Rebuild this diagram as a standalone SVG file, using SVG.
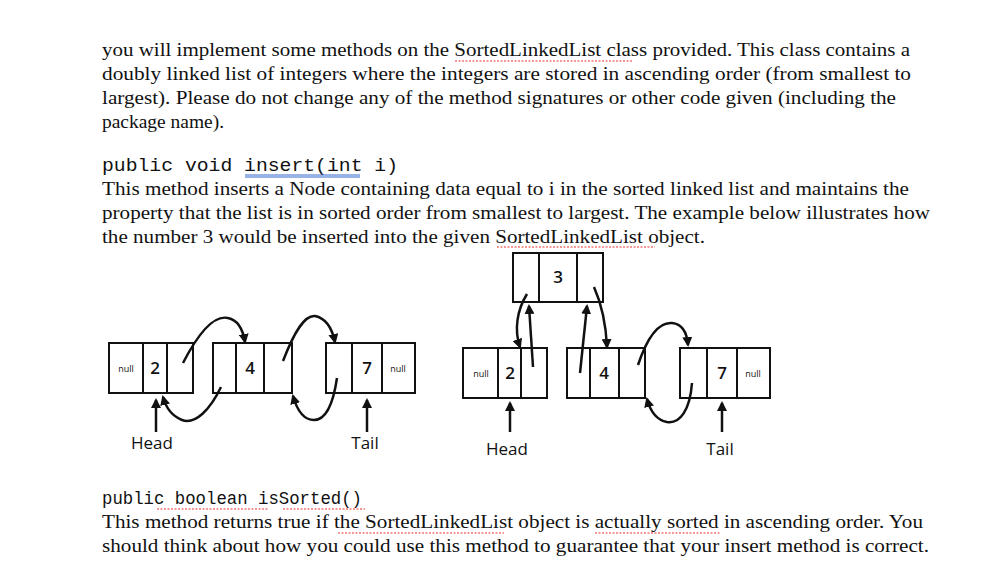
<svg xmlns="http://www.w3.org/2000/svg" width="1002" height="573" viewBox="0 0 1002 573">
<style>
.t{font-family:"Liberation Serif",serif;font-size:18.5px;fill:#111}
.c{font-family:"Liberation Mono",monospace;font-size:18px;fill:#111}
.box{fill:#fff;stroke:#111;stroke-width:2}
.dv{stroke:#111;stroke-width:2}
.n{font-family:"Open Sans",sans-serif;font-size:9px;fill:#111;text-anchor:middle}
.d{font-family:"Open Sans",sans-serif;font-size:17px;font-weight:600;fill:#111;text-anchor:middle}
.l{font-family:"Open Sans",sans-serif;font-size:17px;fill:#111;text-anchor:middle}
.a{fill:none;stroke:#111;stroke-width:2.5;marker-end:url(#ah)}
.sq{fill:none;stroke:#e33;stroke-width:1.2;stroke-dasharray:2 1.5}
.bl{stroke:#36c;stroke-width:1}
</style>
<defs><marker id="ah" viewBox="0 0 10 10" refX="8" refY="5" markerWidth="4" markerHeight="4" orient="auto"><path d="M0,0L10,5L0,10z" fill="#111"/></marker></defs>
<rect width="1002" height="573" fill="#fff"/>
<g id="text">
<text class="t" x="102" y="56" textLength="808" lengthAdjust="spacingAndGlyphs">you will implement some methods on the SortedLinkedList class provided. This class contains a</text>
<text class="t" x="102" y="80" textLength="809" lengthAdjust="spacingAndGlyphs">doubly linked list of integers where the integers are stored in ascending order (from smallest to</text>
<text class="t" x="102" y="104" textLength="794" lengthAdjust="spacingAndGlyphs">largest). Please do not change any of the method signatures or other code given (including the</text>
<text class="t" x="102" y="128" textLength="122" lengthAdjust="spacingAndGlyphs">package name).</text>
<text class="c" x="102" y="171" textLength="296" lengthAdjust="spacingAndGlyphs">public void insert(int i)</text>
<text class="t" x="102" y="195" textLength="807" lengthAdjust="spacingAndGlyphs">This method inserts a Node containing data equal to i in the sorted linked list and maintains the</text>
<text class="t" x="102" y="219" textLength="828" lengthAdjust="spacingAndGlyphs">property that the list is in sorted order from smallest to largest. The example below illustrates how</text>
<text class="t" x="102" y="243" textLength="603" lengthAdjust="spacingAndGlyphs">the number 3 would be inserted into the given SortedLinkedList object.</text>
<text class="c" x="102" y="504" textLength="260" lengthAdjust="spacingAndGlyphs">public boolean isSorted()</text>
<text class="t" x="102" y="528" textLength="821" lengthAdjust="spacingAndGlyphs">This method returns true if the SortedLinkedList object is actually sorted in ascending order. You</text>
<text class="t" x="102" y="552" textLength="827" lengthAdjust="spacingAndGlyphs">should think about how you could use this method to guarantee that your insert method is correct.</text>
</g>
<g id="marks">
<path class="sq" d="M455,61H632"/>
<path class="sq" d="M497,247H655"/>
<path class="sq" d="M338,533H504"/>
<path class="sq" d="M595,533H720"/>
<path class="sq" d="M157,509H268"/>
<path class="sq" d="M283,509H365"/>
<line class="bl" x1="245" y1="175" x2="360" y2="175"/><line class="bl" x1="245" y1="177" x2="360" y2="177"/>
</g>
<g id="nodeA"><rect class="box" x="109" y="343" width="84" height="50"/><line class="dv" x1="143" y1="343" x2="143" y2="393"/><line class="dv" x1="167" y1="343" x2="167" y2="393"/><text class="n" x="126" y="372">null</text><text class="d" x="155" y="374">2</text></g>
<g id="nodeB"><rect class="box" x="213" y="343" width="79" height="50"/><line class="dv" x1="236" y1="343" x2="236" y2="393"/><line class="dv" x1="264" y1="343" x2="264" y2="393"/><text class="d" x="250" y="374">4</text></g>
<g id="nodeC"><rect class="box" x="326" y="343" width="89" height="50"/><line class="dv" x1="352" y1="343" x2="352" y2="393"/><line class="dv" x1="382" y1="343" x2="382" y2="393"/><text class="d" x="367" y="374">7</text><text class="n" x="398" y="372">null</text></g>
<g id="node3"><rect class="box" x="513" y="253" width="90" height="49"/><line class="dv" x1="539" y1="253" x2="539" y2="302"/><line class="dv" x1="577" y1="253" x2="577" y2="302"/><text class="d" x="558" y="283">3</text></g>
<g id="node2b"><rect class="box" x="463" y="348" width="84" height="50"/><line class="dv" x1="498" y1="348" x2="498" y2="398"/><line class="dv" x1="521" y1="348" x2="521" y2="398"/><text class="n" x="481" y="377">null</text><text class="d" x="510" y="379">2</text></g>
<g id="node4b"><rect class="box" x="567" y="348" width="78" height="50"/><line class="dv" x1="590" y1="348" x2="590" y2="398"/><line class="dv" x1="619" y1="348" x2="619" y2="398"/><text class="d" x="604" y="379">4</text></g>
<g id="node7b"><rect class="box" x="680" y="348" width="90" height="50"/><line class="dv" x1="707" y1="348" x2="707" y2="398"/><line class="dv" x1="737" y1="348" x2="737" y2="398"/><text class="d" x="722" y="379">7</text><text class="n" x="753" y="377">null</text></g>
<g id="labels">
<text class="l" x="152" y="449">Head</text><text class="l" x="365" y="449">Tail</text>
<text class="l" x="507" y="455">Head</text><text class="l" x="720" y="455">Tail</text>
</g>
<g id="connectors">
<path class="a" d="M183,363C200,330 215,315 228,318C238,320 243,330 245,342"/>
<path class="a" d="M221,387C210,410 195,425 182,420C172,416 166,408 163,397"/>
<path class="a" d="M283,361C295,330 305,315 315,316C325,318 332,328 335,342"/>
<path class="a" d="M337,378C333,405 325,420 314,420C304,420 297,410 293,396"/>
<line class="a" x1="156" y1="432" x2="156" y2="400"/>
<line class="a" x1="367" y1="432" x2="367" y2="400"/>
<path class="a" d="M527,294C517,310 514,330 520,347"/>
<path class="a" d="M533,367L529,306"/>
<path class="a" d="M580,373L587,306"/>
<path class="a" d="M594,287C602,305 606,325 607,347"/>
<path class="a" d="M638,365C648,335 660,322 672,323C682,324 687,333 688,345"/>
<path class="a" d="M692,383C690,410 680,424 667,422C656,420 650,410 647,399"/>
<line class="a" x1="510" y1="432" x2="510" y2="403"/>
<line class="a" x1="722" y1="432" x2="722" y2="403"/>
</g>
</svg>
